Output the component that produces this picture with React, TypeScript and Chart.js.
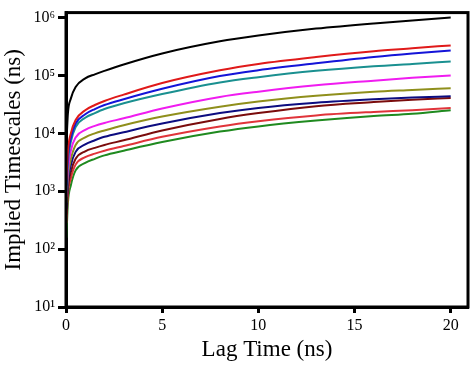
import React, { useEffect, useRef } from "react";
import { Chart, registerables } from "chart.js";

Chart.register(...registerables);

const lagTimes = [0.02, 0.1, 0.25, 0.5, 1, 1.5, 2, 3, 5, 8, 10, 13, 16, 18, 20];

const seriesBlack = [6310, 22390, 39810, 63100, 89130, 104700, 120200, 154900, 239900, 389000, 489800, 645700, 794300, 891300, 1000000];
const seriesRed = [1585, 5012, 10000, 16980, 25120, 30900, 36310, 46770, 74130, 123000, 158500, 208900, 263000, 295100, 331100];
const seriesBlue = [1259, 3981, 8318, 14790, 21380, 26300, 30900, 38900, 58880, 97720, 123000, 162200, 208900, 239900, 269200];
const seriesTeal = [1000, 3162, 7079, 12880, 18620, 22390, 26300, 33110, 47860, 75860, 93330, 120200, 144500, 158500, 173800];
const seriesMagenta = [794, 2239, 5012, 8511, 11480, 13490, 15140, 18200, 26920, 42660, 52480, 67610, 81280, 91200, 100000];
const seriesOlive = [631, 1778, 3548, 6310, 8511, 10000, 11220, 13800, 19500, 28840, 35480, 44670, 52480, 56230, 60260];
const seriesNavy = [501, 1413, 2818, 4786, 6457, 7586, 8710, 10470, 14790, 22390, 27540, 33880, 38900, 41690, 43650];
const seriesMaroon = [398, 1122, 2138, 3631, 4898, 5623, 6310, 7586, 11220, 17780, 22390, 29510, 34670, 38020, 40740];
const seriesRed2 = [282, 891, 1660, 2884, 3890, 4467, 5012, 6026, 8710, 13180, 16220, 20420, 23440, 25120, 27540];
const seriesGreen = [158, 631, 1259, 2291, 3090, 3631, 4169, 5012, 7079, 10720, 13180, 16600, 19950, 21880, 25120];

const xTickValues = [0, 5, 10, 15, 20];
const yTickValues = [10, 100, 1000, 10000, 100000, 1000000];
const supDigits = ["⁰", "¹", "²", "³", "⁴", "⁵", "⁶", "⁷"];

const xTitle = "Lag Time (ns)";
const yTitle = "Implied Timescales (ns)";

const seriesList = [
  { data: seriesBlack, color: "#000000" },
  { data: seriesRed, color: "#e01a1a" },
  { data: seriesBlue, color: "#1414d8" },
  { data: seriesTeal, color: "#1a9090" },
  { data: seriesMagenta, color: "#f01cf0" },
  { data: seriesOlive, color: "#8f8f1c" },
  { data: seriesNavy, color: "#0c0c80" },
  { data: seriesMaroon, color: "#7a0c0c" },
  { data: seriesRed2, color: "#e0343a" },
  { data: seriesGreen, color: "#1f8a1f" },
];

const FONT = "'Liberation Serif', 'DejaVu Serif', serif";

const framePlugin = {
  id: "frame",
  afterDraw(chart: any) {
    const { ctx, chartArea } = chart;
    const { left, top, right, bottom } = chartArea;
    ctx.save();
    ctx.lineWidth = 3;
    ctx.strokeStyle = "#000";
    ctx.strokeRect(left, top, right - left, bottom - top);
    ctx.restore();
  },
};

export default function App() {
  const canvasRef = useRef<HTMLCanvasElement | null>(null);

  useEffect(() => {
    if (!canvasRef.current) return;
    const chart = new Chart(canvasRef.current, {
      type: "line",
      data: {
        datasets: seriesList.map((s) => ({
          data: lagTimes.map((x, i) => ({ x, y: s.data[i] })),
          borderColor: s.color,
          backgroundColor: s.color,
          borderWidth: 2,
          pointRadius: 0,
          cubicInterpolationMode: "monotone" as const,
          fill: false,
        })),
      },
      options: {
        responsive: false,
        animation: false,
        layout: { padding: { top: 9, right: 6, left: 0, bottom: 0 } },
        plugins: {
          legend: { display: false },
          tooltip: { enabled: false },
        },
        scales: {
          x: {
            type: "linear",
            min: 0,
            max: 20.9,
            afterBuildTicks: (scale: any) => {
              scale.ticks = xTickValues.map((v) => ({ value: v }));
            },
            afterFit: (scale: any) => {
              scale.height = 58;
            },
            ticks: {
              color: "#000",
              font: { family: FONT, size: 16 },
              padding: 3,
              maxRotation: 0,
              callback: (v: any) => String(v),
            },
            grid: {
              display: true,
              drawOnChartArea: false,
              tickLength: 6,
              tickWidth: 3,
              tickColor: "#000",
            },
            border: { display: true, color: "#000", width: 3 },
            title: {
              display: true,
              text: xTitle,
              color: "#000",
              font: { family: FONT, size: 23 },
              padding: { top: 0, bottom: 1 },
            },
          },
          y: {
            type: "logarithmic",
            min: 10,
            max: 1220000,
            afterBuildTicks: (scale: any) => {
              scale.ticks = yTickValues.map((v) => ({ value: v }));
            },
            afterFit: (scale: any) => {
              scale.width = 66;
            },
            ticks: {
              color: "#000",
              font: { family: FONT, size: 16 },
              padding: 3,
              callback: (v: any) => "10" + supDigits[Math.round(Math.log10(Number(v)))],
            },
            grid: {
              display: true,
              drawOnChartArea: false,
              tickLength: 8,
              tickWidth: 3,
              tickColor: "#000",
            },
            border: { display: true, color: "#000", width: 3 },
            title: {
              display: true,
              text: yTitle,
              color: "#000",
              font: { family: FONT, size: 23 },
              padding: { top: 0, bottom: 0 },
            },
          },
        },
      },
      plugins: [framePlugin],
    });
    return () => chart.destroy();
  }, []);

  return (
    <div style={{ position: "fixed", left: 0, top: 0, width: 474, height: 365, background: "#fff" }}>
      <canvas ref={canvasRef} width={474} height={365} style={{ display: "block" }} />
    </div>
  );
}
